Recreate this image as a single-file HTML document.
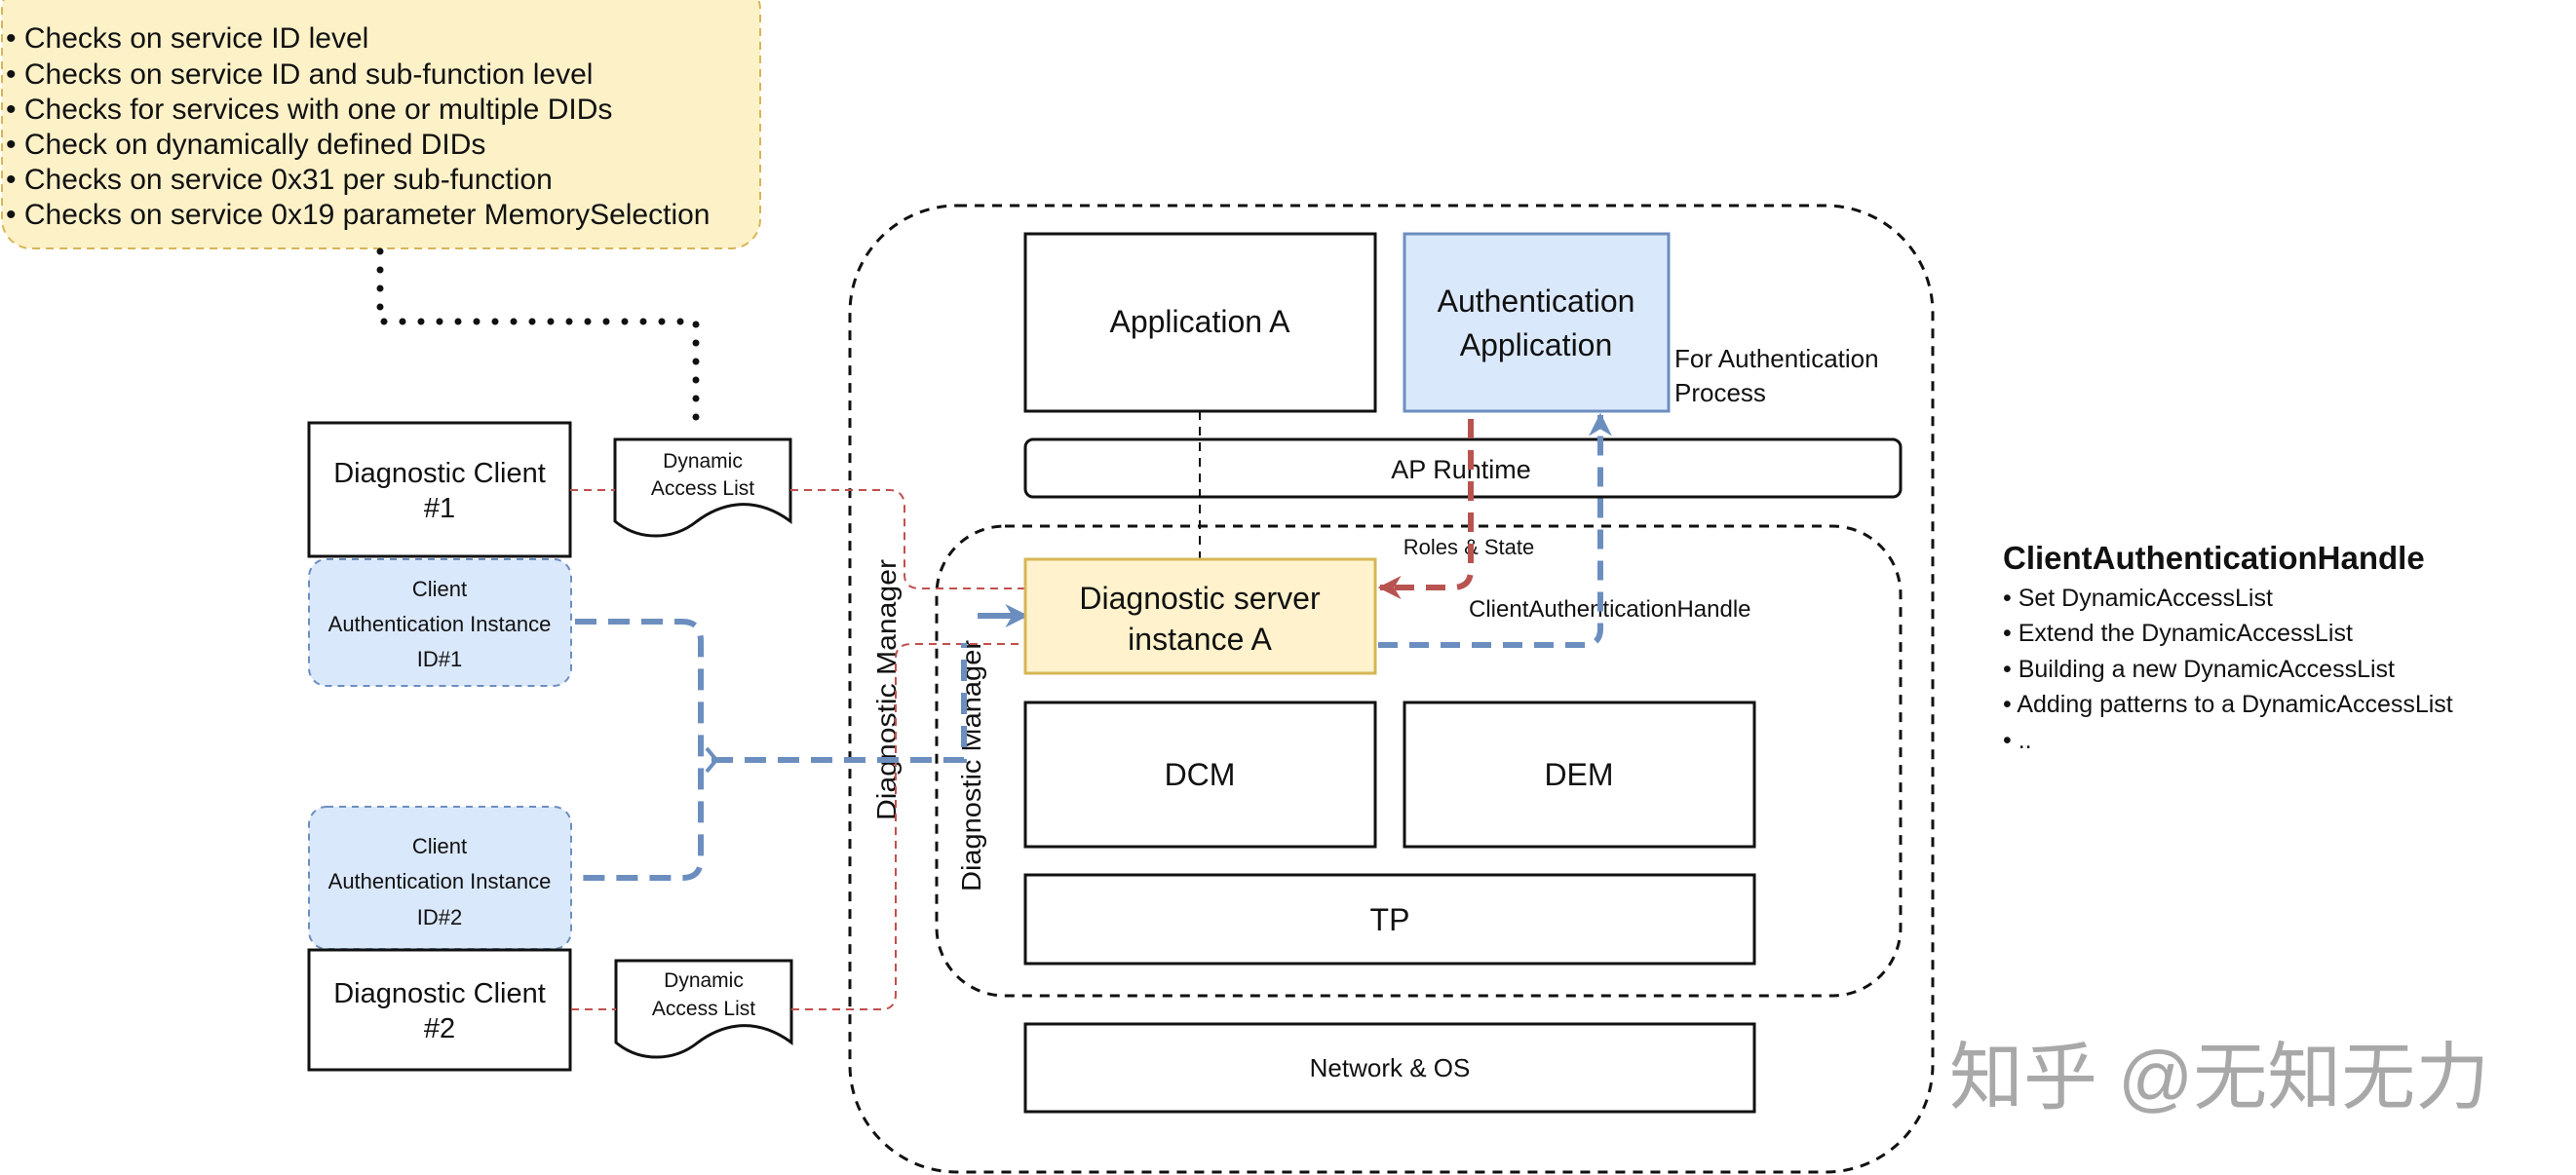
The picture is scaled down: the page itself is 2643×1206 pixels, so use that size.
<!DOCTYPE html>
<html><head><meta charset="utf-8"><style>html,body{margin:0;padding:0;background:#fff}svg{display:block}text{font-family:"Liberation Sans",Arial,sans-serif;fill:#111}</style></head><body>
<svg width="2643" height="1206" viewBox="0 0 2643 1206" xmlns="http://www.w3.org/2000/svg">
<defs>
<marker id="ab" viewBox="0 0 10 10" refX="9" refY="5" markerWidth="4" markerHeight="4" orient="auto" markerUnits="strokeWidth"><path d="M0,0 L10,5 L0,10 L3,5 z" fill="#6c8ebf"/></marker>
<marker id="ar" viewBox="0 0 10 10" refX="9" refY="5" markerWidth="4" markerHeight="4" orient="auto" markerUnits="strokeWidth"><path d="M0,0 L10,5 L0,10 L3,5 z" fill="#b85450"/></marker>
</defs>
<rect x="2" y="-20" width="778" height="275" rx="30" fill="#fdf1c8" stroke="#d6b656" stroke-width="2" stroke-dasharray="8,6"/>
<g font-size="30">
<text x="6" y="49">• Checks on service ID level</text>
<text x="6" y="86">• Checks on service ID and sub-function level</text>
<text x="6" y="122">• Checks for services with one or multiple DIDs</text>
<text x="6" y="158">• Check on dynamically defined DIDs</text>
<text x="6" y="194">• Checks on service 0x31 per sub-function</text>
<text x="6" y="230">• Checks on service 0x19 parameter MemorySelection</text>
</g>
<path d="M390,258 V330 H714 V436" fill="none" stroke="#111" stroke-width="7" stroke-linecap="round" stroke-dasharray="0,19"/>
<rect x="872" y="211" width="1111" height="992" rx="110" fill="none" stroke="#111" stroke-width="3" stroke-dasharray="10,8"/>
<rect x="961" y="540" width="989" height="482" rx="70" fill="none" stroke="#111" stroke-width="3" stroke-dasharray="10,8"/>
<text transform="translate(919,708) rotate(-90)" font-size="28" text-anchor="middle" textLength="268" lengthAdjust="spacingAndGlyphs">Diagnostic Manager</text>
<text transform="translate(1006,786) rotate(-90)" font-size="28" text-anchor="middle" textLength="258" lengthAdjust="spacingAndGlyphs">Diagnostic Manager</text>
<rect x="317" y="434" width="268" height="137" fill="#fff" stroke="#111" stroke-width="3"/>
<text x="451" y="495" font-size="29" text-anchor="middle">Diagnostic Client</text>
<text x="451" y="531" font-size="29" text-anchor="middle">#1</text>
<rect x="317" y="574" width="269" height="130" rx="18" fill="#dae8fc" stroke="#6c8ebf" stroke-width="2" stroke-dasharray="7,6"/>
<g font-size="22" text-anchor="middle"><text x="451" y="612">Client</text><text x="451" y="648">Authentication Instance</text><text x="451" y="684">ID#1</text></g>
<rect x="317" y="828" width="269" height="146" rx="18" fill="#dae8fc" stroke="#6c8ebf" stroke-width="2" stroke-dasharray="7,6"/>
<g font-size="22" text-anchor="middle"><text x="451" y="876">Client</text><text x="451" y="912">Authentication Instance</text><text x="451" y="949">ID#2</text></g>
<rect x="317" y="975" width="268" height="123" fill="#fff" stroke="#111" stroke-width="3"/>
<text x="451" y="1029" font-size="29" text-anchor="middle">Diagnostic Client</text>
<text x="451" y="1065" font-size="29" text-anchor="middle">#2</text>
<path d="M631,451 H811 V535 C770,505 735,520 715,535 C690,555 655,555 631,535 Z" fill="#fff" stroke="#111" stroke-width="3"/>
<text x="721" y="480" font-size="21" text-anchor="middle">Dynamic</text><text x="721" y="508" font-size="21" text-anchor="middle">Access List</text>
<path d="M632,986 H812 V1070 C771,1040 736,1055 716,1070 C691,1090 656,1090 632,1070 Z" fill="#fff" stroke="#111" stroke-width="3"/>
<text x="722" y="1013" font-size="21" text-anchor="middle">Dynamic</text><text x="722" y="1042" font-size="21" text-anchor="middle">Access List</text>
<g fill="none" stroke="#c0504d" stroke-width="2" stroke-dasharray="8,6">
<path d="M585,503 H631"/><path d="M811,503 H912 Q928,503 928,520 V590 Q928,604 944,604 H1052"/>
<path d="M586,1036 H632"/><path d="M812,1036 H904 Q919,1036 919,1020 V676 Q919,661 935,661 H1052"/>
</g>
<g fill="none" stroke="#6c8ebf" stroke-width="6" stroke-dasharray="22,12">
<path d="M590,638 H700 Q719,638 719,658 V882 Q719,901 700,901 H590"/>
<path d="M730,780 H989 V660" />
</g>
<path d="M725,768 L735,780 L725,792" fill="none" stroke="#6c8ebf" stroke-width="4"/>
<path d="M1003,632 L1053,632" stroke="#6c8ebf" stroke-width="6" marker-end="url(#ab)"/>
<rect x="1052" y="240" width="359" height="182" fill="#fff" stroke="#111" stroke-width="3"/>
<text x="1231" y="341" font-size="32" text-anchor="middle">Application A</text>
<rect x="1441" y="240" width="271" height="182" fill="#dae8fc" stroke="#6c8ebf" stroke-width="3"/>
<text x="1576" y="320" font-size="32" text-anchor="middle">Authentication</text>
<text x="1576" y="365" font-size="32" text-anchor="middle">Application</text>
<text x="1718" y="377" font-size="26">For Authentication</text>
<text x="1718" y="412" font-size="26">Process</text>
<rect x="1052" y="451" width="898" height="59" rx="8" fill="#fff" stroke="#111" stroke-width="3"/>
<text x="1499" y="491" font-size="27" text-anchor="middle">AP Runtime</text>
<path d="M1231,422 V574" stroke="#111" stroke-width="2" stroke-dasharray="9,7"/>
<rect x="1052" y="574" width="359" height="117" fill="#fff2cc" stroke="#d6b656" stroke-width="3"/>
<text x="1231" y="625" font-size="32" text-anchor="middle">Diagnostic server</text>
<text x="1231" y="667" font-size="32" text-anchor="middle">instance A</text>
<text x="1507" y="569" font-size="22" text-anchor="middle">Roles &amp; State</text>
<text x="1507" y="633" font-size="24">ClientAuthenticationHandle</text>
<path d="M1509,430 V585 Q1509,603 1490,603 H1416" fill="none" stroke="#b85450" stroke-width="6" stroke-dasharray="20,12" marker-end="url(#ar)"/>
<path d="M1414,662 H1625 Q1642,662 1642,645 V426" fill="none" stroke="#6c8ebf" stroke-width="6" stroke-dasharray="20,12" marker-end="url(#ab)"/>
<rect x="1052" y="721" width="359" height="148" fill="#fff" stroke="#111" stroke-width="3"/>
<text x="1231" y="806" font-size="32" text-anchor="middle">DCM</text>
<rect x="1441" y="721" width="359" height="148" fill="#fff" stroke="#111" stroke-width="3"/>
<text x="1620" y="806" font-size="32" text-anchor="middle">DEM</text>
<rect x="1052" y="898" width="748" height="91" fill="#fff" stroke="#111" stroke-width="3"/>
<text x="1426" y="955" font-size="32" text-anchor="middle">TP</text>
<rect x="1052" y="1051" width="748" height="90" fill="#fff" stroke="#111" stroke-width="3"/>
<text x="1426" y="1105" font-size="26" text-anchor="middle">Network &amp; OS</text>
<text x="2055" y="584" font-size="33" font-weight="bold">ClientAuthenticationHandle</text>
<g font-size="25">
<text x="2055" y="622">• Set DynamicAccessList</text>
<text x="2055" y="658">• Extend the DynamicAccessList</text>
<text x="2055" y="695">• Building a new DynamicAccessList</text>
<text x="2055" y="731">• Adding patterns to a DynamicAccessList</text>
<text x="2055" y="768">• ..</text>
</g>
<text x="2000" y="1132" font-size="76" style="font-family:'Liberation Sans','Noto Sans CJK SC',sans-serif;fill:#a8a8a8">知乎 @无知无力</text>
</svg>
</body></html>
